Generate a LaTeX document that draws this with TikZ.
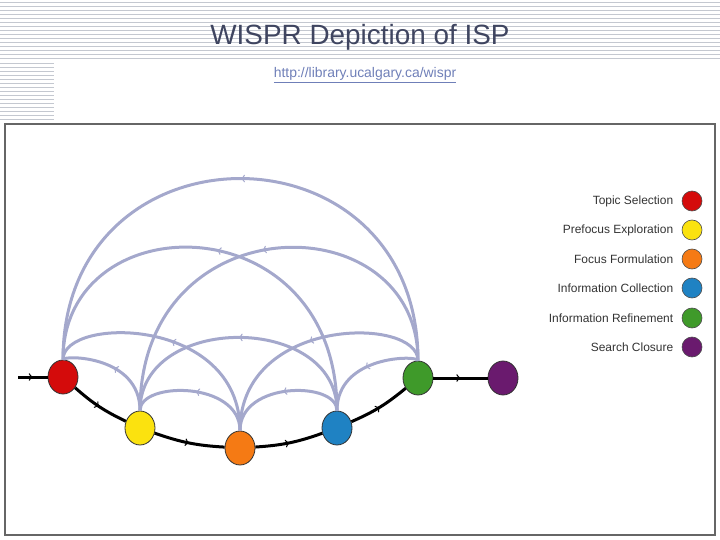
\documentclass[tikz,border=0pt]{standalone}
\usepackage{fontspec}
\setmainfont{Liberation Sans}
\usetikzlibrary{shapes.geometric, decorations.markings}
\definecolor{titlecol}{HTML}{3F4560}
\definecolor{urlcol}{HTML}{6F7FB8}
\definecolor{arccol}{HTML}{A4A8CC}
\definecolor{stripecol}{HTML}{C4C8D0}
\definecolor{tsred}{HTML}{D40B0B}
\definecolor{pfyellow}{HTML}{FBE20F}
\definecolor{fforange}{HTML}{F57A14}
\definecolor{icblue}{HTML}{1F82C3}
\definecolor{irgreen}{HTML}{3F9A2A}
\definecolor{scpurple}{HTML}{6A1A6E}

\begin{document}
\begin{tikzpicture}[
    x=1bp, y=-1bp,
    stage/.style={ellipse, draw=black!80, line width=0.8bp, minimum width=30bp, minimum height=34bp, inner sep=0pt},
    dot/.style={circle, draw=black!70, line width=0.6bp, minimum size=20bp, inner sep=0pt},
    backarc/.style={arccol, line width=3bp, postaction={decorate}, decoration={markings, mark=at position 0.5 with {\arrowreversed[arccol, scale=1.6, line width=0.8bp]{>}}}},
    forward/.style={black, line width=3bp, postaction={decorate}, decoration={markings, mark=at position 0.5 with {\arrow[scale=1.6, line width=0.8bp]{>}}}},
    legend/.style={anchor=east, font=\fontsize{12}{14}\selectfont, text=black!80}
]
    \useasboundingbox (0,0) rectangle (720,540);

    % stripes
    \foreach \y in {2,6,...,58} {
        \draw[stripecol, line width=0.8bp] (0,\y) -- (720,\y);
    }
    \foreach \y in {63,67,...,120} {
        \draw[stripecol, line width=0.8bp] (0,\y) -- (54,\y);
    }

    % header
    \node[text=titlecol, font=\fontsize{28}{32}\selectfont] (title) at (360,37) {WISPR Depiction of ISP};
    \node[text=urlcol, font=\fontsize{14}{16}\selectfont] (url) at (365,75) {\underline{http://library.ucalgary.ca/wispr}};

    \draw[black!60, line width=1.5bp] (5,124) rectangle (715,535);

    % stages
    \node[stage, fill=tsred] (ts) at (63,377) {};
    \node[stage, fill=pfyellow] (pe) at (140,428) {};
    \node[stage, fill=fforange] (ff) at (240,448) {};
    \node[stage, fill=icblue] (ic) at (337,428) {};
    \node[stage, fill=irgreen] (ir) at (418,378) {};
    \node[stage, fill=scpurple] (sc) at (503,378) {};
    \coordinate (start) at (18,377);

    % back arcs
    \draw[backarc] (ts) .. controls (ts |- 0,118) and (ir |- 0,118) .. (ir);
    \draw[backarc] (ts) .. controls (ts |- 0,202) and (ic |- 0,202) .. (ic);
    \draw[backarc] (pe) .. controls (pe |- 0,202) and (ir |- 0,202) .. (ir);
    \draw[backarc] (ts) .. controls (ts |- 0,316) and (ff |- 0,316) .. (ff);
    \draw[backarc] (pe) .. controls (pe |- 0,313) and (ic |- 0,313) .. (ic);
    \draw[backarc] (ff) .. controls (ff |- 0,316) and (ir |- 0,316) .. (ir);
    \draw[backarc] (ts) .. controls (ts |- 0,355) and (pe |- 0,355) .. (pe);
    \draw[backarc] (pe) .. controls (pe |- 0,381) and (ff |- 0,381) .. (ff);
    \draw[backarc] (ff) .. controls (ff |- 0,381) and (ic |- 0,381) .. (ic);
    \draw[backarc] (ic) .. controls (ic |- 0,355) and (ir |- 0,355) .. (ir);

    % main path
    \draw[forward] (start) -- (ts);
    \draw[forward] (ts) to[bend right=8] (pe);
    \draw[forward] (pe) to[bend right=8] (ff);
    \draw[forward] (ff) to[bend right=8] (ic);
    \draw[forward] (ic) to[bend right=8] (ir);
    \draw[forward] (ir) -- (sc);

    % legend
    \foreach \name/\col/\y in {Topic Selection/tsred/201, Prefocus Exploration/pfyellow/230, Focus Formulation/fforange/259,
        Information Collection/icblue/288, Information Refinement/irgreen/318, Search Closure/scpurple/347} {
        \node[dot, fill=\col] (key\y) at (692,\y) {};
        \node[legend] at ([xshift=-5bp]key\y.west) {\name};
    }
\end{tikzpicture}
\end{document}
